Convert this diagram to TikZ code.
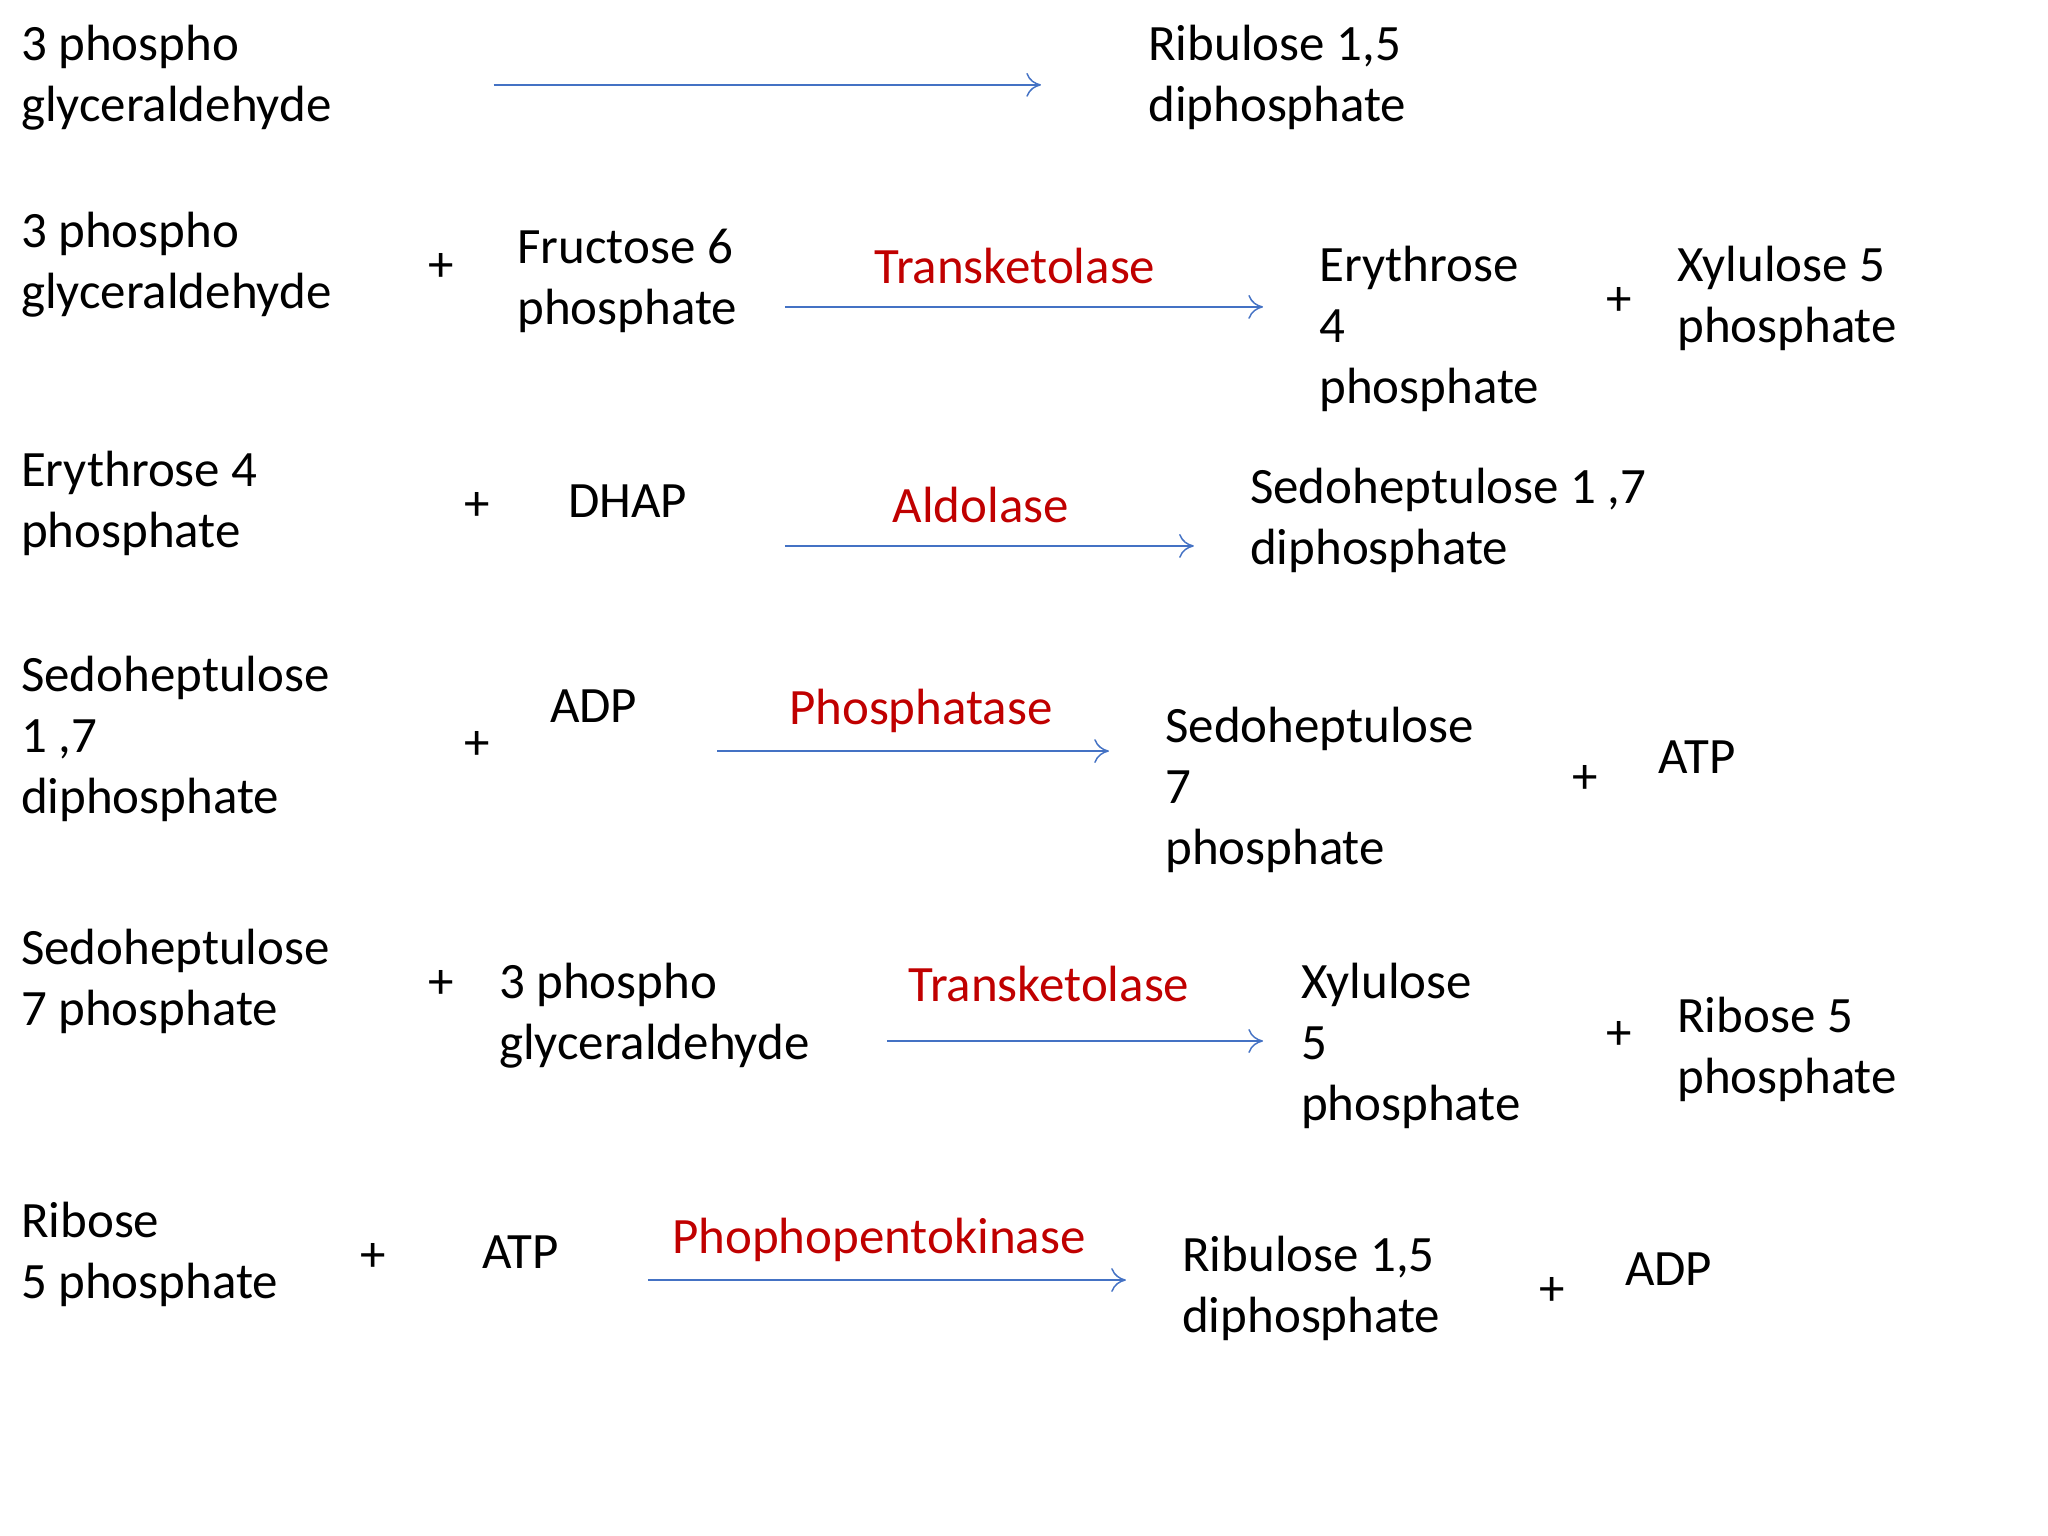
\documentclass[tikz,border=0pt]{standalone}
\usepackage{fontspec}
\usetikzlibrary{arrows.meta}
\setmainfont{Carlito}
\definecolor{arr}{RGB}{68,114,196}
\definecolor{enz}{RGB}{192,0,0}
\begin{document}
\begin{tikzpicture}[x=0.05cm,y=-0.05cm,
  every node/.style={font=\fontsize{55.5}{66.6}\selectfont,inner sep=0pt},
  txt/.style={anchor=west,align=left},
  enzyme/.style={text=enz,anchor=center},
  pl/.style={anchor=center},
  rx/.style={draw=arr,line width=1.6pt,-{To[length=16pt,width=26pt]}}]
\useasboundingbox (0,0) rectangle (1568,1176);
\newcommand{\ml}[4]{\node[txt,anchor=north west] (#1) at (#2,#3-14) {#4};}
% Row 1
\ml{a1}{16}{33}{3 phospho\\glyceraldehyde}
\ml{b1}{879}{33}{Ribulose 1,5\\diphosphate}
\coordinate (s1) at (378,65); \coordinate (e1) at (797,65);
\draw[rx] (s1) -- (e1);
% Row 2
\ml{a2}{16}{176}{3 phospho\\glyceraldehyde}
\node[pl] (p2a) at (338,205) {+};
\ml{c2}{396}{189}{Fructose 6\\phosphate}
\node[enzyme] (z2) at (777,204) {Transketolase};
\coordinate (s2) at (601,235); \coordinate (e2) at (967,235);
\draw[rx] (s2) -- (e2);
\ml{b2}{1010}{202}{Erythrose\\4\\phosphate}
\node[pl] (p2b) at (1240,231) {+};
\ml{d2}{1284}{202}{Xylulose 5\\phosphate}
% Row 3
\ml{a3}{16}{359}{Erythrose 4\\phosphate}
\node[pl] (p3a) at (365,388) {+};
\ml{c3}{435}{385}{DHAP}
\node[enzyme] (z3) at (751,387) {Aldolase};
\coordinate (s3) at (601,418); \coordinate (e3) at (914,418);
\draw[rx] (s3) -- (e3);
\ml{b3}{957}{372}{Sedoheptulose 1 ,7\\diphosphate}
% Row 4
\ml{a4}{16}{516}{Sedoheptulose\\1 ,7\\diphosphate}
\node[pl] (p4a) at (365,571) {+};
\ml{c4}{421}{542}{ADP}
\node[enzyme] (z4) at (705,544) {Phosphatase};
\coordinate (s4) at (549,575); \coordinate (e4) at (849,575);
\draw[rx] (s4) -- (e4);
\ml{b4}{892}{555}{Sedoheptulose\\7\\phosphate}
\node[pl] (p4b) at (1214,597) {+};
\ml{d4}{1270}{581}{ATP}
% Row 5
\ml{a5}{16}{725}{Sedoheptulose\\7 phosphate}
\node[pl] (p5a) at (338,754) {+};
\ml{c5}{382}{751}{3 phospho\\glyceraldehyde}
\node[enzyme] (z5) at (803,753) {Transketolase};
\coordinate (s5) at (679,797); \coordinate (e5) at (967,797);
\draw[rx] (s5) -- (e5);
\ml{b5}{996}{751}{Xylulose\\5\\phosphate}
\node[pl] (p5b) at (1240,793) {+};
\ml{d5}{1284}{777}{Ribose 5\\phosphate}
% Row 6
\ml{a6}{16}{934}{Ribose\\5 phosphate}
\node[pl] (p6a) at (286,963) {+};
\ml{c6}{369}{960}{ATP}
\node[enzyme] (z6) at (673,949) {Phophopentokinase};
\coordinate (s6) at (496,980); \coordinate (e6) at (862,980);
\draw[rx] (s6) -- (e6);
\ml{b6}{905}{960}{Ribulose 1,5\\diphosphate}
\node[pl] (p6b) at (1188,989) {+};
\ml{d6}{1244}{973}{ADP}
\end{tikzpicture}
\end{document}
